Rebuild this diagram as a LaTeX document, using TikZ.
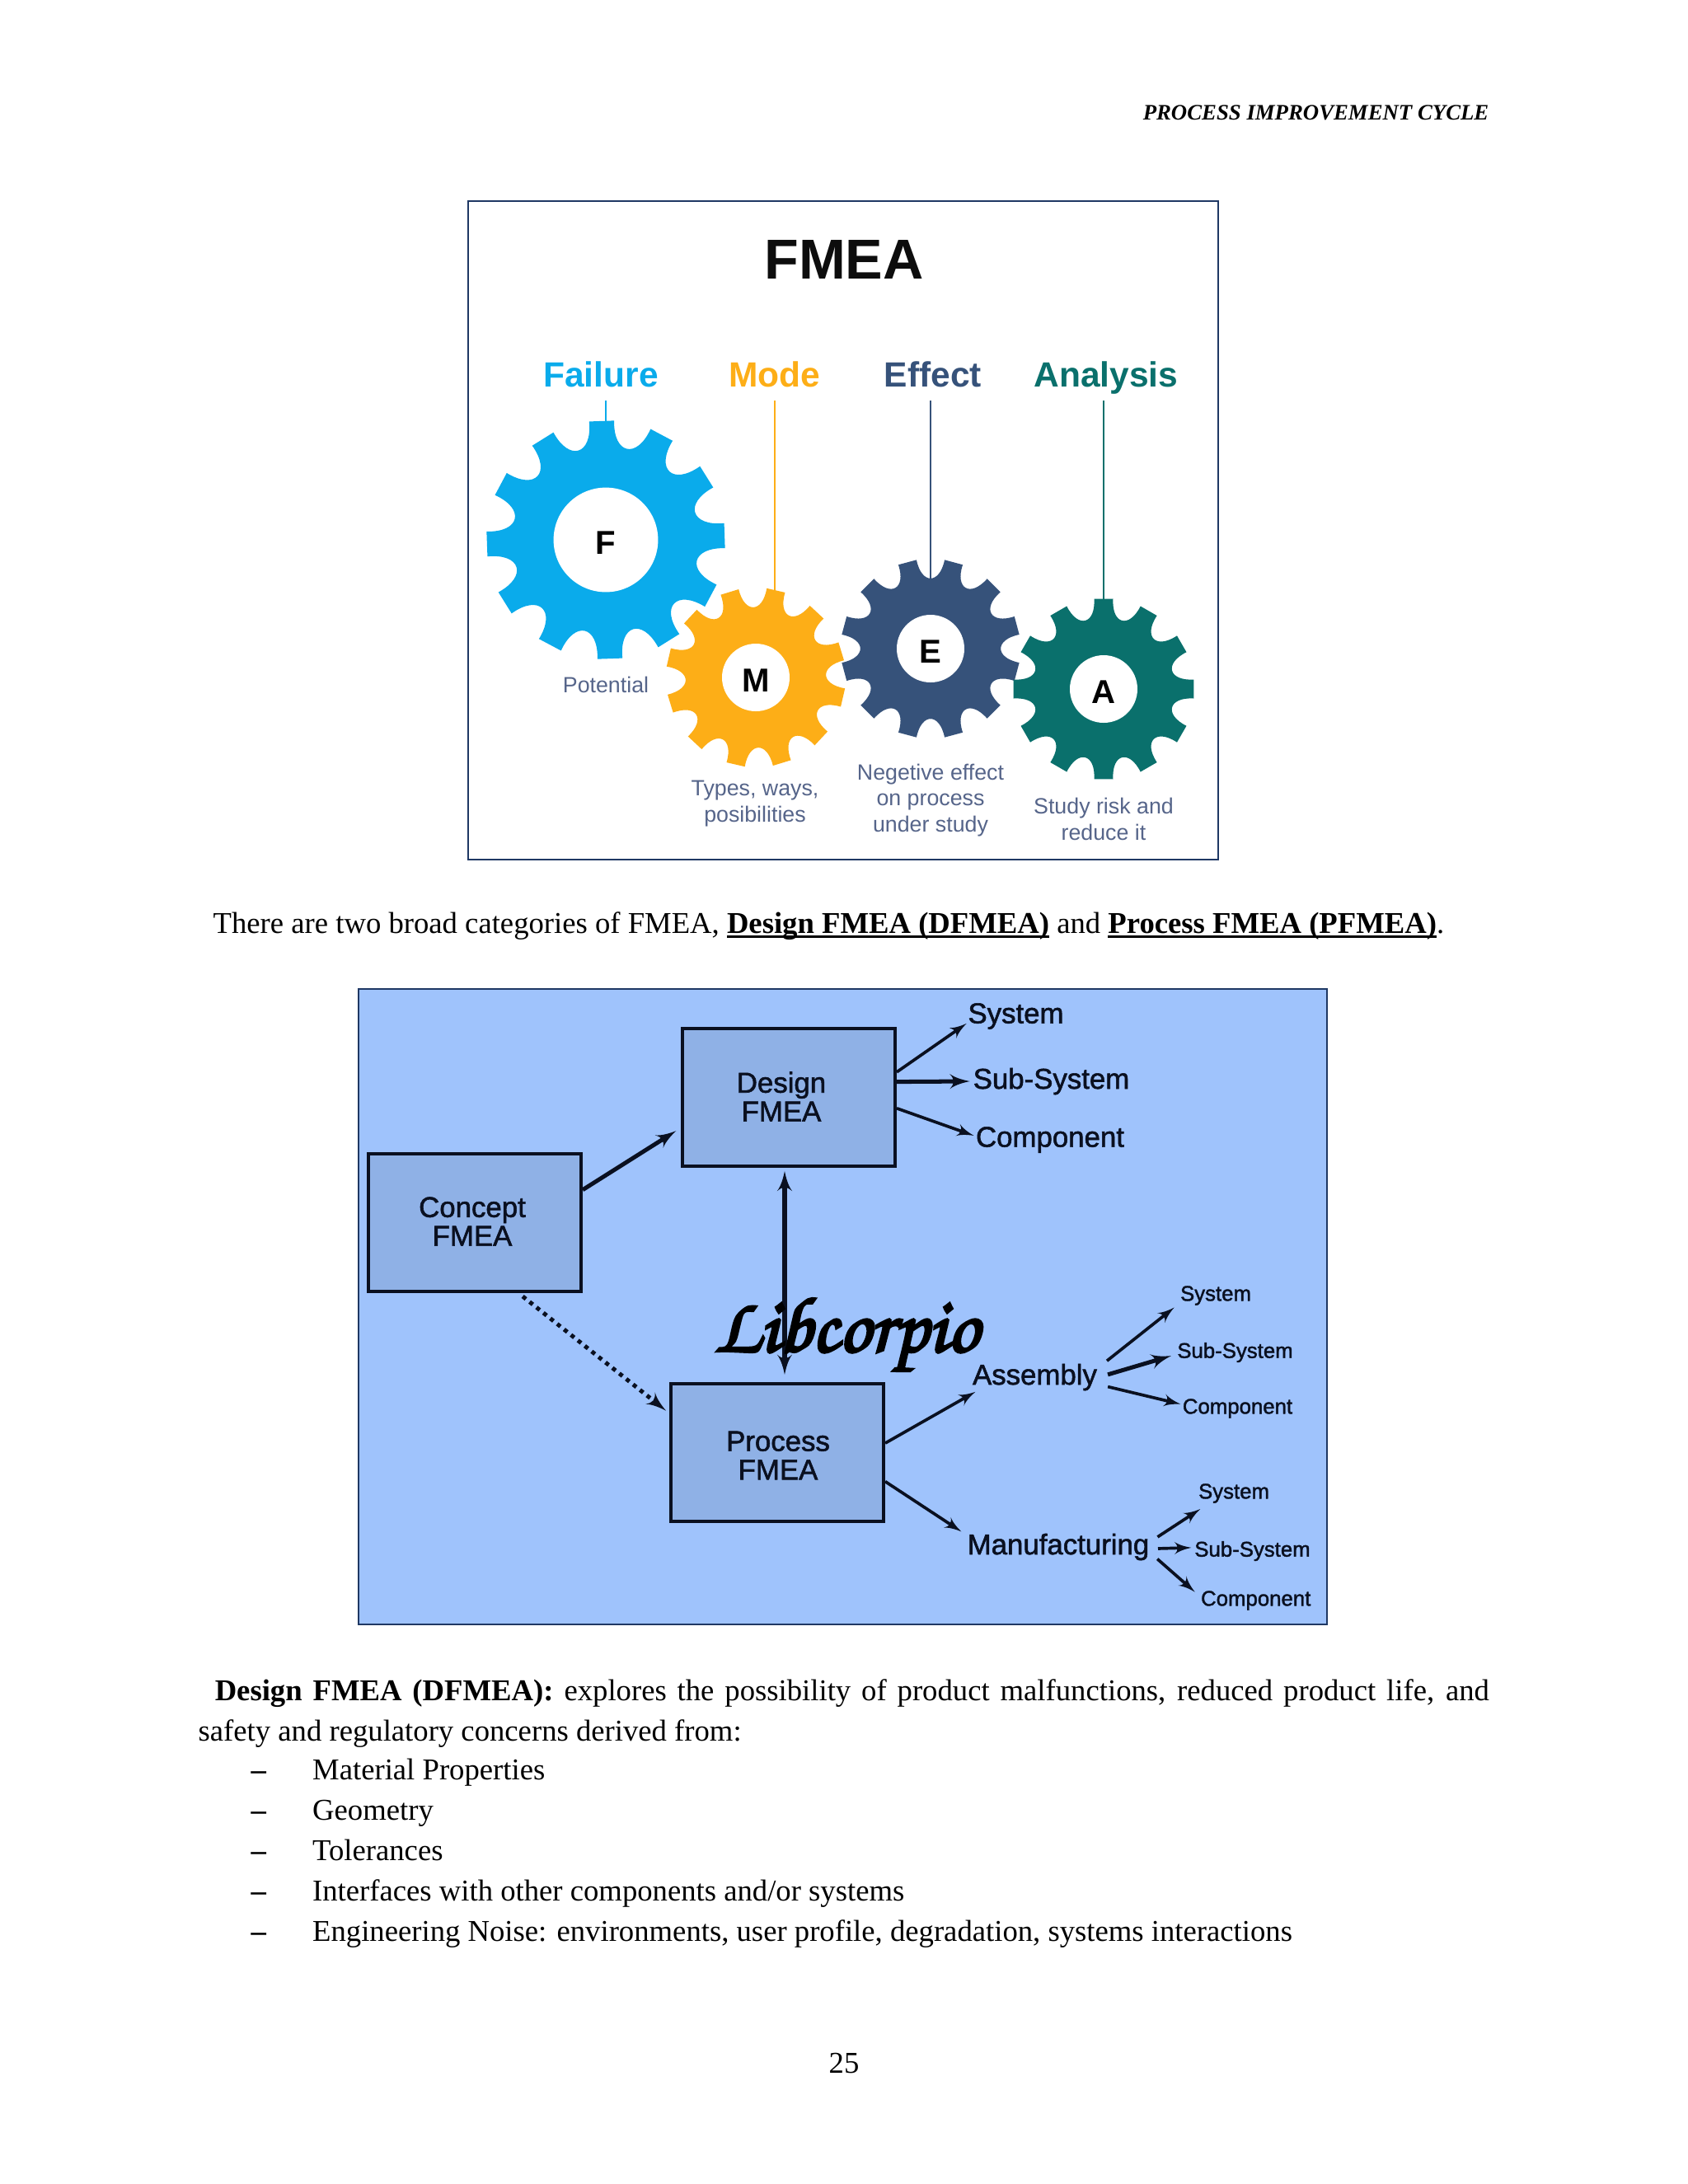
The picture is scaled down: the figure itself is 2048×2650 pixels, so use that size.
\documentclass[tikz,border=0pt]{standalone}
\usepackage{fontspec}
\setmainfont{Liberation Serif}
\setsansfont{Liberation Sans}
\newfontfamily\blurfont[FakeBold=1.6]{Liberation Sans}
\usepackage{xcolor}
\usetikzlibrary{arrows,positioning}
\definecolor{colorF}{HTML}{0AABEB}
\definecolor{colorM}{HTML}{FDAE17}
\definecolor{colorE}{HTML}{36527A}
\definecolor{colorA}{HTML}{0A706C}
\definecolor{colorCap}{HTML}{56658A}
\definecolor{colorBack}{HTML}{9FC3FC}
\definecolor{colorBox}{HTML}{8FB1E6}
\definecolor{colorFrame}{HTML}{1F3864}
\definecolor{colorInk}{HTML}{0A1020}
\newcommand{\gearshape}[5]{%
  \fill[#5,shift={(#1,#2)}] ({#4-9}:#3) foreach \a in {0,30,...,330} {
    -- ({#4+\a-9}:#3) .. controls ({#4+\a-8}:{#3*0.72}) and ({#4+\a+8}:{#3*0.72}) .. ({#4+\a+9}:#3)
  } -- cycle;}
\newcommand{\thickunder}[1]{\setbox0=\hbox{#1}\rlap{\rule[-1.7pt]{\wd0}{0.8pt}}\box0\relax}
\begin{document}
\begin{tikzpicture}[x=0.2988pt,y=-0.2988pt,>=latex',every node/.append style={align=center},
  body/.style={font=\rmfamily\fontsize{10.96}{14.64}\selectfont,inner sep=0pt,anchor=base west},
  hole/.style={circle,fill=white,inner sep=0pt,text height=10.5pt,font=\sffamily\bfseries\fontsize{12}{14}\selectfont},
  head/.style={font=\sffamily\bfseries\fontsize{12.7}{14}\selectfont,anchor=base,inner sep=1.8pt,text depth=3pt},
  capt/.style={font=\sffamily\fontsize{8}{9.4}\selectfont,text=colorCap,inner sep=0pt},
  int/.style={draw=colorInk,fill=colorBox,line width=1.2pt,minimum width=77.1pt,minimum height=49.9pt,inner sep=0pt},
  big/.style={font=\blurfont\fontsize{10.4}{10.4}\selectfont,text=colorInk,inner sep=2pt},
  small/.style={font=\blurfont\fontsize{7.7}{9}\selectfont,text=colorInk,inner sep=2pt},
  fat/.style={->,draw=colorInk,line width=1.5pt},
  thin/.style={->,draw=colorInk,line width=1.1pt},]
  \useasboundingbox (0,0) rectangle (2048,2650);
  \node [body,anchor=base east,font=\rmfamily\bfseries\itshape\fontsize{8}{10}\selectfont] (pagehead) at (1807,145) {PROCESS IMPROVEMENT CYCLE};

  \node [draw=colorFrame,fill=white,line width=0.7pt,minimum width=271.9pt,minimum height=238.7pt,inner sep=0pt] (wheelframe) at (1023,643.5) {};
  \node [font=\sffamily\bfseries\fontsize{20.4}{24}\selectfont,text=black!95,inner sep=0pt,anchor=base] (wheeltitle) at (1024,338) {FMEA};
  \node [head,text=colorF] (failure) at (729,469) {Failure};
  \node [head,text=colorM] (mode) at (940,469) {Mode};
  \node [head,text=colorE] (effect) at (1132,469) {Effect};
  \node [head,text=colorA] (analysis) at (1342,469) {Analysis};
  \coordinate (Ftop) at (735,512);
  \coordinate (Mtop) at (940,716);
  \coordinate (Etop) at (1129,702);
  \coordinate (Atop) at (1339,728);
  \draw[colorF,line width=0.45pt] (failure.south -| Ftop) -- (Ftop);
  \draw[colorM,line width=0.45pt] (mode.south -| Mtop) -- (Mtop);
  \draw[colorE,line width=0.45pt] (effect.south -| Etop) -- (Etop);
  \draw[colorA,line width=0.45pt] (analysis.south -| Atop) -- (Atop);
  \gearshape{735}{655}{145}{-77}{colorF}
  \gearshape{917}{822}{109}{-92}{colorM}
  \gearshape{1129}{787}{109}{-90}{colorE}
  \gearshape{1339}{836}{110}{-75}{colorA}
  \node [hole,minimum size=37.9pt] (F) at (735,655) {F};
  \node [hole,minimum size=24.5pt] (M) at (917,822) {M};
  \node [hole,minimum size=24.5pt] (E) at (1129,787) {E};
  \node [hole,minimum size=24.5pt] (A) at (1339,836) {A};
  \node [capt] (potential) at (735,831) {Potential};
  \node [capt] (types) at (916,975) {Types, ways,\\posibilities};
  \node [capt] (negetive) at (1129,971) {Negetive effect\\on process\\under study};
  \node [capt] (study) at (1339,994) {Study risk and\\reduce it};

  \node [body] (categories) at (258,1132) {There are two broad categories of FMEA, \thickunder{\textbf{Design FMEA (DFMEA)}} and \thickunder{\textbf{Process FMEA (PFMEA)}}.};

  \node [draw=colorFrame,fill=colorBack,line width=0.7pt,minimum width=351.1pt,minimum height=230.4pt,inner sep=0pt] (flowframe) at (1022.5,1585.5) {};
  \node [int] (Cbox) at (576,1483.7) {};
  \node [int] (Dbox) at (957,1331) {};
  \node [int] (Pbox) at (943,1762.5) {};
  \node [big] (Ctext) at (573,1482) {Concept\\FMEA};
  \node [big] (Dtext) at (948,1330.5) {Design\\FMEA};
  \node [big] (Ptext) at (944,1766) {Process\\FMEA};
  \node [big] (Dsys) at (1232.5,1233) {System};
  \node [big] (Dsub) at (1275.5,1312) {Sub-System};
  \node [big] (Dcomp) at (1274,1383) {Component};
  \node [big] (assembly) at (1255.5,1671) {Assembly};
  \node [big] (manufacturing) at (1284,1877) {Manufacturing};
  \node [small] (Asys) at (1475,1572) {System};
  \node [small] (Asub) at (1498.5,1641) {Sub-System};
  \node [small] (Acomp) at (1501.5,1709) {Component};
  \node [small] (Msys) at (1497,1812) {System};
  \node [small] (Msub) at (1519.5,1882) {Sub-System};
  \node [small] (Mcomp) at (1523.7,1942) {Component};
  \draw[fat,shorten >=2pt] (Cbox.17) -- (Dbox.196);
  \draw[thin,shorten >=-2pt] (Dbox.13) -- (Dsys.191);
  \draw[fat,shorten >=-1pt] (Dbox.8) -- (Dsub.west);
  \draw[thin,shorten >=-1.5pt] (Dbox.-6.5) -- (Dcomp.176);
  \draw[fat,<->,shorten <=1.3pt,shorten >=2.7pt] (Pbox.84 |- Dbox.south) -- (Pbox.84);
  \draw[thin,line width=1.5pt,dash pattern=on 1.5pt off 1.7pt,shorten <=1.8pt,shorten >=1.5pt] (Cbox.-58) -- (Pbox.160.8);
  \draw[thin,shorten >=-3.5pt] (Pbox.5) -- (assembly.196);
  \draw[thin] (Pbox.-15) -- (manufacturing.171.5);
  \draw[thin,shorten <=1.8pt] (assembly.11.3) -- (Asys.196.7);
  \draw[fat,shorten <=1.8pt] (assembly.1.4) -- (Asub.183.6);
  \draw[thin,shorten <=1.8pt,shorten >=-1.5pt] (assembly.-7.5) -- (Acomp.175);
  \draw[thin,shorten <=1pt] (manufacturing.5.1) -- (Msys.205.5);
  \draw[thin,shorten <=1pt,shorten >=-1pt] (manufacturing.-1) -- (Msub.177.6);
  \draw[thin,shorten <=1pt] (manufacturing.-6) -- (Mcomp.172);
  \node [inner sep=0pt,anchor=base west,font=\usefont{T1}{pzc}{mb}{it}\fontsize{28.5}{29}\selectfont] (watermark) at (866,1640) {\special{pdf:code 2 Tr 0.9 w}Libcorpio\special{pdf:code 0 Tr 0 w}};

  \node [body,anchor=north west,text width=468pt,align=justify] (dfmea) at (240,2037) {\hspace*{6pt}\textbf{Design FMEA (DFMEA):} explores the possibility of product malfunctions, reduced product life, and safety and regulatory concerns derived from:};
  \node [body,font=\rmfamily\bfseries\fontsize{10.96}{14.64}\selectfont] (dashA) at (304,2159) {–};
  \node [body] (itemA) at (378.5,2159) {Material Properties};
  \node [body,font=\rmfamily\bfseries\fontsize{10.96}{14.64}\selectfont] (dashB) at (304,2208) {–};
  \node [body] (itemB) at (378.5,2208) {Geometry};
  \node [body,font=\rmfamily\bfseries\fontsize{10.96}{14.64}\selectfont] (dashC) at (304,2257) {–};
  \node [body] (itemC) at (378.5,2257) {Tolerances};
  \node [body,font=\rmfamily\bfseries\fontsize{10.96}{14.64}\selectfont] (dashD) at (304,2306) {–};
  \node [body] (itemD) at (378.5,2306) {Interfaces with other components and/or systems};
  \node [body,font=\rmfamily\bfseries\fontsize{10.96}{14.64}\selectfont] (dashE) at (304,2355) {–};
  \node [body] (itemE) at (378.5,2355) {Engineering Noise: environments, user profile, degradation, systems interactions};
  \node [body,anchor=base] (pageno) at (1024,2515) {25};
\end{tikzpicture}
\end{document}
